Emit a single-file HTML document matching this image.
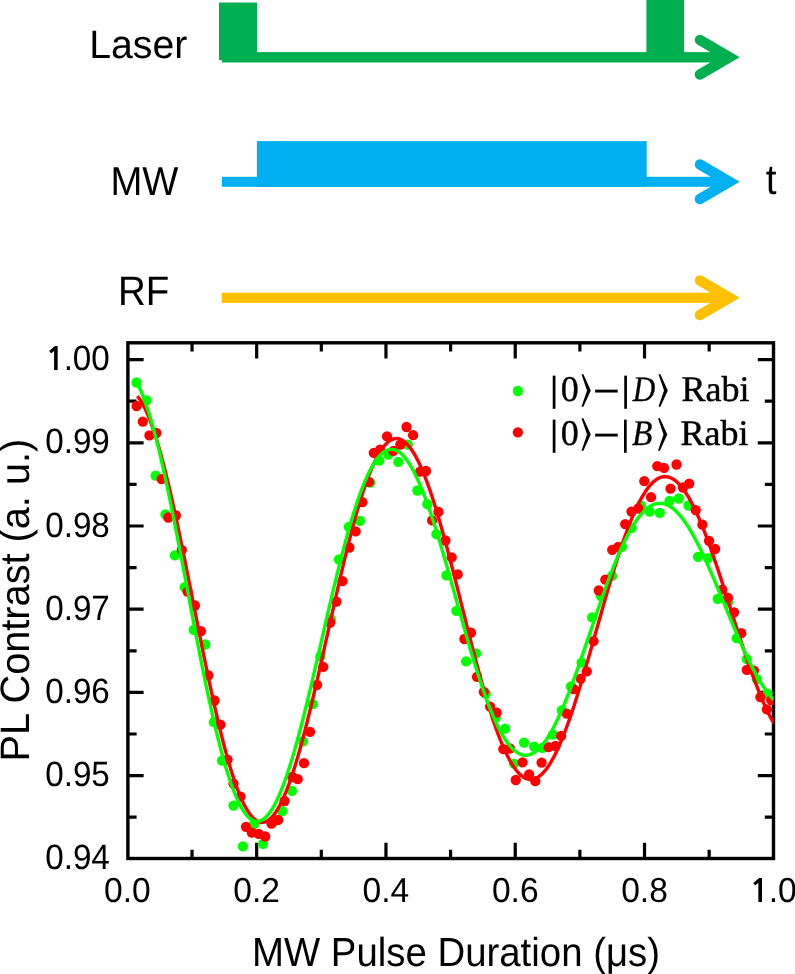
<!DOCTYPE html><html><head><meta charset="utf-8"><style>html,body{margin:0;padding:0;background:#fff;}svg{display:block;} text{text-rendering:geometricPrecision;}</style></head><body>
<svg width="795" height="974" viewBox="0 0 795 974">
<rect width="795" height="974" fill="#fff"/>
<g fill="#000">
<text transform="translate(89.22,58.10) scale(1.0,1.014)" font-family="'Liberation Sans', Arial, sans-serif" font-size="39.23">Laser</text>
<text transform="translate(110.46,194.70) scale(1.0,1.056)" font-family="'Liberation Sans', Arial, sans-serif" font-size="38.25">MW</text>
<text transform="translate(118.04,304.90) scale(1.0,1.068)" font-family="'Liberation Sans', Arial, sans-serif" font-size="38.5">RF</text>
<text transform="translate(765.71,193.90) scale(1.0,1.084)" font-family="'Liberation Sans', Arial, sans-serif" font-size="38.8">t</text>
</g>
<rect x="219" y="2.5" width="38" height="57.5" fill="#00B050"/>
<rect x="222" y="52.1" width="508" height="10.4" fill="#00B050"/>
<rect x="646.4" y="0" width="37.7" height="60" fill="#00B050"/>
<polyline points="699.9,40.05 729.40,57.30 699.9,74.55" fill="none" stroke="#00B050" stroke-width="10.4" stroke-linecap="round" stroke-linejoin="miter" stroke-miterlimit="10"/>
<rect x="221.9" y="176.8" width="508" height="10" fill="#00B0F0"/>
<rect x="256.9" y="141.1" width="389.8" height="45.7" fill="#00B0F0"/>
<polyline points="699.9,164.55 729.40,181.80 699.9,199.05" fill="none" stroke="#00B0F0" stroke-width="10.4" stroke-linecap="round" stroke-linejoin="miter" stroke-miterlimit="10"/>
<rect x="221.7" y="292.7" width="508" height="10.2" fill="#FFC000"/>
<polyline points="699.9,280.55 729.40,297.80 699.9,315.05" fill="none" stroke="#FFC000" stroke-width="10.4" stroke-linecap="round" stroke-linejoin="miter" stroke-miterlimit="10"/>
<rect x="127.9" y="342.8" width="645.6" height="515.7" fill="none" stroke="#000" stroke-width="3.4"/>
<path d="M192.04,858.5 V849.80 M192.04,342.8 V351.50 M256.68,858.5 V842.80 M256.68,342.8 V358.50 M321.32,858.5 V849.80 M321.32,342.8 V351.50 M385.96,858.5 V842.80 M385.96,342.8 V358.50 M450.60,858.5 V849.80 M450.60,342.8 V351.50 M515.24,858.5 V842.80 M515.24,342.8 V358.50 M579.88,858.5 V849.80 M579.88,342.8 V351.50 M644.52,858.5 V842.80 M644.52,342.8 V358.50 M709.16,858.5 V849.80 M709.16,342.8 V351.50 M127.9,817.20 H136.60 M773.5,817.20 H764.80 M127.9,775.60 H143.60 M773.5,775.60 H757.80 M127.9,734.00 H136.60 M773.5,734.00 H764.80 M127.9,692.40 H143.60 M773.5,692.40 H757.80 M127.9,650.80 H136.60 M773.5,650.80 H764.80 M127.9,609.20 H143.60 M773.5,609.20 H757.80 M127.9,567.60 H136.60 M773.5,567.60 H764.80 M127.9,526.00 H143.60 M773.5,526.00 H757.80 M127.9,484.40 H136.60 M773.5,484.40 H764.80 M127.9,442.80 H143.60 M773.5,442.80 H757.80 M127.9,401.20 H136.60 M773.5,401.20 H764.80 M127.9,359.60 H143.60 M773.5,359.60 H757.80" stroke="#000" stroke-width="3.2" fill="none"/>
<clipPath id="pc"><rect x="127.9" y="342.8" width="645.7" height="515.7"/></clipPath>
<g clip-path="url(#pc)">
<circle cx="136.6" cy="382.5" r="5.15" fill="#00FF00"/>
<circle cx="146.5" cy="400.3" r="5.15" fill="#00FF00"/>
<circle cx="155.6" cy="475.7" r="5.15" fill="#00FF00"/>
<circle cx="165.4" cy="514.4" r="5.15" fill="#00FF00"/>
<circle cx="174.8" cy="555.3" r="5.15" fill="#00FF00"/>
<circle cx="184.7" cy="587.2" r="5.15" fill="#00FF00"/>
<circle cx="193.7" cy="629.8" r="5.15" fill="#00FF00"/>
<circle cx="205.2" cy="644.5" r="5.15" fill="#00FF00"/>
<circle cx="213.8" cy="722.2" r="5.15" fill="#00FF00"/>
<circle cx="222.0" cy="760.6" r="5.15" fill="#00FF00"/>
<circle cx="233.5" cy="805.6" r="5.15" fill="#00FF00"/>
<circle cx="242.9" cy="846.3" r="5.15" fill="#00FF00"/>
<circle cx="254.0" cy="824.2" r="5.15" fill="#00FF00"/>
<circle cx="263.0" cy="843.8" r="5.15" fill="#00FF00"/>
<circle cx="275.3" cy="820.8" r="5.15" fill="#00FF00"/>
<circle cx="282.3" cy="811.2" r="5.15" fill="#00FF00"/>
<circle cx="292.0" cy="790.9" r="5.15" fill="#00FF00"/>
<circle cx="303.0" cy="741.4" r="5.15" fill="#00FF00"/>
<circle cx="312.8" cy="704.2" r="5.15" fill="#00FF00"/>
<circle cx="320.3" cy="656.4" r="5.15" fill="#00FF00"/>
<circle cx="330.8" cy="619.2" r="5.15" fill="#00FF00"/>
<circle cx="339.0" cy="559.5" r="5.15" fill="#00FF00"/>
<circle cx="348.8" cy="526.8" r="5.15" fill="#00FF00"/>
<circle cx="360.0" cy="520.8" r="5.15" fill="#00FF00"/>
<circle cx="370.1" cy="482.7" r="5.15" fill="#00FF00"/>
<circle cx="379.3" cy="460.7" r="5.15" fill="#00FF00"/>
<circle cx="388.3" cy="454.7" r="5.15" fill="#00FF00"/>
<circle cx="398.3" cy="461.8" r="5.15" fill="#00FF00"/>
<circle cx="407.8" cy="444.6" r="5.15" fill="#00FF00"/>
<circle cx="417.4" cy="490.5" r="5.15" fill="#00FF00"/>
<circle cx="427.3" cy="504.2" r="5.15" fill="#00FF00"/>
<circle cx="436.4" cy="534.1" r="5.15" fill="#00FF00"/>
<circle cx="446.4" cy="575.4" r="5.15" fill="#00FF00"/>
<circle cx="456.4" cy="610.8" r="5.15" fill="#00FF00"/>
<circle cx="466.1" cy="661.4" r="5.15" fill="#00FF00"/>
<circle cx="476.0" cy="653.4" r="5.15" fill="#00FF00"/>
<circle cx="485.7" cy="693.5" r="5.15" fill="#00FF00"/>
<circle cx="495.7" cy="717.9" r="5.15" fill="#00FF00"/>
<circle cx="505.1" cy="728.7" r="5.15" fill="#00FF00"/>
<circle cx="514.0" cy="763.6" r="5.15" fill="#00FF00"/>
<circle cx="524.0" cy="742.6" r="5.15" fill="#00FF00"/>
<circle cx="534.1" cy="746.6" r="5.15" fill="#00FF00"/>
<circle cx="542.3" cy="747.9" r="5.15" fill="#00FF00"/>
<circle cx="553.0" cy="734.7" r="5.15" fill="#00FF00"/>
<circle cx="561.8" cy="710.5" r="5.15" fill="#00FF00"/>
<circle cx="571.0" cy="686.5" r="5.15" fill="#00FF00"/>
<circle cx="581.6" cy="662.6" r="5.15" fill="#00FF00"/>
<circle cx="592.1" cy="617.4" r="5.15" fill="#00FF00"/>
<circle cx="601.0" cy="596.0" r="5.15" fill="#00FF00"/>
<circle cx="612.0" cy="575.9" r="5.15" fill="#00FF00"/>
<circle cx="622.0" cy="546.8" r="5.15" fill="#00FF00"/>
<circle cx="631.5" cy="528.0" r="5.15" fill="#00FF00"/>
<circle cx="640.9" cy="505.3" r="5.15" fill="#00FF00"/>
<circle cx="649.7" cy="511.6" r="5.15" fill="#00FF00"/>
<circle cx="659.8" cy="512.9" r="5.15" fill="#00FF00"/>
<circle cx="669.5" cy="500.9" r="5.15" fill="#00FF00"/>
<circle cx="678.8" cy="498.5" r="5.15" fill="#00FF00"/>
<circle cx="688.5" cy="505.5" r="5.15" fill="#00FF00"/>
<circle cx="698.0" cy="556.8" r="5.15" fill="#00FF00"/>
<circle cx="708.1" cy="558.1" r="5.15" fill="#00FF00"/>
<circle cx="717.7" cy="598.8" r="5.15" fill="#00FF00"/>
<circle cx="728.0" cy="602.3" r="5.15" fill="#00FF00"/>
<circle cx="736.7" cy="638.2" r="5.15" fill="#00FF00"/>
<circle cx="746.8" cy="659.1" r="5.15" fill="#00FF00"/>
<circle cx="756.8" cy="679.2" r="5.15" fill="#00FF00"/>
<circle cx="767.6" cy="693.6" r="5.15" fill="#00FF00"/>
<circle cx="136.6" cy="406.0" r="5.15" fill="#FF0000"/>
<circle cx="142.8" cy="421.6" r="5.15" fill="#FF0000"/>
<circle cx="149.4" cy="435.4" r="5.15" fill="#FF0000"/>
<circle cx="156.3" cy="433.0" r="5.15" fill="#FF0000"/>
<circle cx="161.6" cy="479.1" r="5.15" fill="#FF0000"/>
<circle cx="168.3" cy="517.5" r="5.15" fill="#FF0000"/>
<circle cx="175.9" cy="515.5" r="5.15" fill="#FF0000"/>
<circle cx="181.8" cy="549.9" r="5.15" fill="#FF0000"/>
<circle cx="187.5" cy="591.6" r="5.15" fill="#FF0000"/>
<circle cx="194.9" cy="605.5" r="5.15" fill="#FF0000"/>
<circle cx="200.9" cy="631.2" r="5.15" fill="#FF0000"/>
<circle cx="208.4" cy="675.3" r="5.15" fill="#FF0000"/>
<circle cx="214.5" cy="700.5" r="5.15" fill="#FF0000"/>
<circle cx="220.4" cy="724.7" r="5.15" fill="#FF0000"/>
<circle cx="227.5" cy="759.6" r="5.15" fill="#FF0000"/>
<circle cx="233.5" cy="783.7" r="5.15" fill="#FF0000"/>
<circle cx="240.5" cy="796.6" r="5.15" fill="#FF0000"/>
<circle cx="246.0" cy="826.8" r="5.15" fill="#FF0000"/>
<circle cx="251.8" cy="832.6" r="5.15" fill="#FF0000"/>
<circle cx="258.7" cy="833.8" r="5.15" fill="#FF0000"/>
<circle cx="265.2" cy="836.5" r="5.15" fill="#FF0000"/>
<circle cx="271.5" cy="823.7" r="5.15" fill="#FF0000"/>
<circle cx="278.2" cy="819.9" r="5.15" fill="#FF0000"/>
<circle cx="284.5" cy="801.0" r="5.15" fill="#FF0000"/>
<circle cx="292.3" cy="777.0" r="5.15" fill="#FF0000"/>
<circle cx="297.7" cy="779.2" r="5.15" fill="#FF0000"/>
<circle cx="304.0" cy="763.2" r="5.15" fill="#FF0000"/>
<circle cx="310.0" cy="731.8" r="5.15" fill="#FF0000"/>
<circle cx="317.0" cy="684.8" r="5.15" fill="#FF0000"/>
<circle cx="323.2" cy="666.9" r="5.15" fill="#FF0000"/>
<circle cx="330.2" cy="622.5" r="5.15" fill="#FF0000"/>
<circle cx="336.4" cy="601.6" r="5.15" fill="#FF0000"/>
<circle cx="342.5" cy="581.2" r="5.15" fill="#FF0000"/>
<circle cx="349.3" cy="547.5" r="5.15" fill="#FF0000"/>
<circle cx="355.7" cy="531.4" r="5.15" fill="#FF0000"/>
<circle cx="362.4" cy="502.2" r="5.15" fill="#FF0000"/>
<circle cx="368.9" cy="481.8" r="5.15" fill="#FF0000"/>
<circle cx="373.8" cy="452.8" r="5.15" fill="#FF0000"/>
<circle cx="380.1" cy="449.6" r="5.15" fill="#FF0000"/>
<circle cx="387.0" cy="436.4" r="5.15" fill="#FF0000"/>
<circle cx="393.3" cy="450.9" r="5.15" fill="#FF0000"/>
<circle cx="400.3" cy="444.6" r="5.15" fill="#FF0000"/>
<circle cx="406.5" cy="427.0" r="5.15" fill="#FF0000"/>
<circle cx="413.1" cy="435.2" r="5.15" fill="#FF0000"/>
<circle cx="420.1" cy="471.6" r="5.15" fill="#FF0000"/>
<circle cx="426.0" cy="471.0" r="5.15" fill="#FF0000"/>
<circle cx="432.1" cy="520.4" r="5.15" fill="#FF0000"/>
<circle cx="438.4" cy="511.9" r="5.15" fill="#FF0000"/>
<circle cx="445.4" cy="540.5" r="5.15" fill="#FF0000"/>
<circle cx="451.7" cy="557.4" r="5.15" fill="#FF0000"/>
<circle cx="457.7" cy="574.4" r="5.15" fill="#FF0000"/>
<circle cx="464.4" cy="639.0" r="5.15" fill="#FF0000"/>
<circle cx="471.0" cy="632.7" r="5.15" fill="#FF0000"/>
<circle cx="477.0" cy="676.8" r="5.15" fill="#FF0000"/>
<circle cx="483.8" cy="691.8" r="5.15" fill="#FF0000"/>
<circle cx="490.1" cy="706.6" r="5.15" fill="#FF0000"/>
<circle cx="496.7" cy="712.7" r="5.15" fill="#FF0000"/>
<circle cx="503.3" cy="749.1" r="5.15" fill="#FF0000"/>
<circle cx="509.9" cy="748.5" r="5.15" fill="#FF0000"/>
<circle cx="515.8" cy="780.0" r="5.15" fill="#FF0000"/>
<circle cx="522.5" cy="762.3" r="5.15" fill="#FF0000"/>
<circle cx="529.1" cy="774.3" r="5.15" fill="#FF0000"/>
<circle cx="535.3" cy="781.2" r="5.15" fill="#FF0000"/>
<circle cx="541.6" cy="762.7" r="5.15" fill="#FF0000"/>
<circle cx="548.6" cy="747.2" r="5.15" fill="#FF0000"/>
<circle cx="555.5" cy="746.0" r="5.15" fill="#FF0000"/>
<circle cx="561.1" cy="735.9" r="5.15" fill="#FF0000"/>
<circle cx="566.8" cy="713.6" r="5.15" fill="#FF0000"/>
<circle cx="573.5" cy="689.2" r="5.15" fill="#FF0000"/>
<circle cx="580.7" cy="678.7" r="5.15" fill="#FF0000"/>
<circle cx="586.8" cy="671.3" r="5.15" fill="#FF0000"/>
<circle cx="593.5" cy="641.2" r="5.15" fill="#FF0000"/>
<circle cx="598.8" cy="590.5" r="5.15" fill="#FF0000"/>
<circle cx="605.3" cy="579.7" r="5.15" fill="#FF0000"/>
<circle cx="612.2" cy="549.8" r="5.15" fill="#FF0000"/>
<circle cx="618.3" cy="547.0" r="5.15" fill="#FF0000"/>
<circle cx="625.2" cy="524.2" r="5.15" fill="#FF0000"/>
<circle cx="631.5" cy="511.6" r="5.15" fill="#FF0000"/>
<circle cx="638.4" cy="508.5" r="5.15" fill="#FF0000"/>
<circle cx="644.3" cy="481.2" r="5.15" fill="#FF0000"/>
<circle cx="651.0" cy="497.2" r="5.15" fill="#FF0000"/>
<circle cx="657.3" cy="466.1" r="5.15" fill="#FF0000"/>
<circle cx="664.0" cy="467.9" r="5.15" fill="#FF0000"/>
<circle cx="670.5" cy="488.7" r="5.15" fill="#FF0000"/>
<circle cx="676.5" cy="464.5" r="5.15" fill="#FF0000"/>
<circle cx="683.0" cy="487.5" r="5.15" fill="#FF0000"/>
<circle cx="689.2" cy="483.6" r="5.15" fill="#FF0000"/>
<circle cx="695.7" cy="510.1" r="5.15" fill="#FF0000"/>
<circle cx="702.4" cy="524.7" r="5.15" fill="#FF0000"/>
<circle cx="709.0" cy="540.8" r="5.15" fill="#FF0000"/>
<circle cx="715.1" cy="549.0" r="5.15" fill="#FF0000"/>
<circle cx="722.3" cy="589.7" r="5.15" fill="#FF0000"/>
<circle cx="728.0" cy="597.9" r="5.15" fill="#FF0000"/>
<circle cx="734.1" cy="612.3" r="5.15" fill="#FF0000"/>
<circle cx="741.3" cy="633.2" r="5.15" fill="#FF0000"/>
<circle cx="746.8" cy="669.9" r="5.15" fill="#FF0000"/>
<circle cx="754.0" cy="670.6" r="5.15" fill="#FF0000"/>
<circle cx="760.4" cy="697.2" r="5.15" fill="#FF0000"/>
<circle cx="766.9" cy="709.4" r="5.15" fill="#FF0000"/>
<circle cx="771.2" cy="700.1" r="5.15" fill="#FF0000"/>
<path d="M137.40,396.12 L139.53,398.92 L141.66,402.26 L143.79,406.12 L145.91,410.49 L148.04,415.36 L150.17,420.72 L152.30,426.55 L154.43,432.84 L156.56,439.56 L158.68,446.70 L160.81,454.25 L162.94,462.17 L165.07,470.45 L167.20,479.07 L169.33,488.01 L171.45,497.23 L173.58,506.72 L175.71,516.46 L177.84,526.41 L179.97,536.56 L182.10,546.87 L184.23,557.33 L186.35,567.89 L188.48,578.55 L190.61,589.26 L192.74,600.01 L194.87,610.77 L197.00,621.50 L199.12,632.19 L201.25,642.81 L203.38,653.33 L205.51,663.73 L207.64,673.97 L209.77,684.04 L211.89,693.92 L214.02,703.57 L216.15,712.98 L218.28,722.11 L220.41,730.96 L222.54,739.50 L224.67,747.71 L226.79,755.57 L228.92,763.07 L231.05,770.17 L233.18,776.88 L235.31,783.18 L237.44,789.04 L239.56,794.46 L241.69,799.42 L243.82,803.92 L245.95,807.95 L248.08,811.49 L250.21,814.55 L252.34,817.11 L254.46,819.16 L256.59,820.72 L258.72,821.77 L260.85,822.32 L262.98,822.36 L265.11,821.89 L267.23,820.93 L269.36,819.47 L271.49,817.52 L273.62,815.08 L275.75,812.17 L277.88,808.80 L280.00,804.96 L282.13,800.68 L284.26,795.97 L286.39,790.83 L288.52,785.29 L290.65,779.36 L292.78,773.06 L294.90,766.39 L297.03,759.39 L299.16,752.07 L301.29,744.44 L303.42,736.53 L305.55,728.36 L307.67,719.96 L309.80,711.33 L311.93,702.51 L314.06,693.51 L316.19,684.37 L318.32,675.09 L320.44,665.71 L322.57,656.26 L324.70,646.74 L326.83,637.19 L328.96,627.64 L331.09,618.10 L333.22,608.59 L335.34,599.15 L337.47,589.80 L339.60,580.55 L341.73,571.43 L343.86,562.46 L345.99,553.67 L348.11,545.07 L350.24,536.69 L352.37,528.54 L354.50,520.65 L356.63,513.03 L358.76,505.71 L360.88,498.69 L363.01,491.99 L365.14,485.64 L367.27,479.64 L369.40,474.01 L371.53,468.75 L373.66,463.89 L375.78,459.44 L377.91,455.39 L380.04,451.77 L382.17,448.57 L384.30,445.81 L386.43,443.48 L388.55,441.60 L390.68,440.17 L392.81,439.19 L394.94,438.65 L397.07,438.57 L399.20,438.93 L401.33,439.73 L403.45,440.98 L405.58,442.66 L407.71,444.78 L409.84,447.31 L411.97,450.27 L414.10,453.63 L416.22,457.39 L418.35,461.53 L420.48,466.05 L422.61,470.93 L424.74,476.16 L426.87,481.72 L428.99,487.61 L431.12,493.80 L433.25,500.27 L435.38,507.01 L437.51,514.01 L439.64,521.24 L441.77,528.69 L443.89,536.33 L446.02,544.14 L448.15,552.12 L450.28,560.23 L452.41,568.45 L454.54,576.77 L456.66,585.17 L458.79,593.61 L460.92,602.09 L463.05,610.58 L465.18,619.06 L467.31,627.50 L469.43,635.90 L471.56,644.22 L473.69,652.44 L475.82,660.56 L477.95,668.54 L480.08,676.37 L482.21,684.02 L484.33,691.49 L486.46,698.75 L488.59,705.78 L490.72,712.58 L492.85,719.12 L494.98,725.38 L497.10,731.36 L499.23,737.04 L501.36,742.40 L503.49,747.44 L505.62,752.15 L507.75,756.50 L509.87,760.50 L512.00,764.13 L514.13,767.40 L516.26,770.28 L518.39,772.77 L520.52,774.88 L522.65,776.59 L524.77,777.91 L526.90,778.83 L529.03,779.35 L531.16,779.47 L533.29,779.19 L535.42,778.52 L537.54,777.45 L539.67,776.00 L541.80,774.16 L543.93,771.95 L546.06,769.36 L548.19,766.42 L550.32,763.12 L552.44,759.47 L554.57,755.49 L556.70,751.19 L558.83,746.58 L560.96,741.67 L563.09,736.47 L565.21,731.00 L567.34,725.28 L569.47,719.31 L571.60,713.12 L573.73,706.72 L575.86,700.13 L577.98,693.36 L580.11,686.43 L582.24,679.36 L584.37,672.16 L586.50,664.87 L588.63,657.48 L590.76,650.03 L592.88,642.53 L595.01,635.00 L597.14,627.46 L599.27,619.93 L601.40,612.42 L603.53,604.96 L605.65,597.56 L607.78,590.24 L609.91,583.02 L612.04,575.92 L614.17,568.94 L616.30,562.12 L618.42,555.47 L620.55,549.00 L622.68,542.73 L624.81,536.66 L626.94,530.83 L629.07,525.23 L631.20,519.89 L633.32,514.82 L635.45,510.02 L637.58,505.51 L639.71,501.30 L641.84,497.39 L643.97,493.80 L646.09,490.54 L648.22,487.60 L650.35,485.00 L652.48,482.75 L654.61,480.84 L656.74,479.28 L658.86,478.07 L660.99,477.21 L663.12,476.71 L665.25,476.56 L667.38,476.77 L669.51,477.33 L671.64,478.23 L673.76,479.48 L675.89,481.08 L678.02,483.01 L680.15,485.26 L682.28,487.84 L684.41,490.74 L686.53,493.94 L688.66,497.44 L690.79,501.23 L692.92,505.30 L695.05,509.63 L697.18,514.22 L699.31,519.05 L701.43,524.11 L703.56,529.38 L705.69,534.86 L707.82,540.53 L709.95,546.37 L712.08,552.36 L714.20,558.50 L716.33,564.77 L718.46,571.14 L720.59,577.62 L722.72,584.17 L724.85,590.78 L726.97,597.44 L729.10,604.12 L731.23,610.82 L733.36,617.51 L735.49,624.18 L737.62,630.82 L739.75,637.40 L741.87,643.91 L744.00,650.33 L746.13,656.65 L748.26,662.86 L750.39,668.93 L752.52,674.86 L754.64,680.63 L756.77,686.22 L758.90,691.62 L761.03,696.83 L763.16,701.82 L765.29,706.59 L767.41,711.12 L769.54,715.41 L771.67,719.45 L773.80,723.22" fill="none" stroke="#FF0000" stroke-width="3.4"/>
<path d="M136.60,381.96 L138.73,386.08 L140.86,390.75 L142.99,395.95 L145.12,401.68 L147.26,407.90 L149.39,414.61 L151.52,421.78 L153.65,429.40 L155.78,437.43 L157.91,445.87 L160.04,454.68 L162.17,463.84 L164.30,473.32 L166.44,483.11 L168.57,493.16 L170.70,503.47 L172.83,514.00 L174.96,524.71 L177.09,535.60 L179.22,546.61 L181.35,557.74 L183.48,568.95 L185.62,580.21 L187.75,591.49 L189.88,602.76 L192.01,614.00 L194.14,625.19 L196.27,636.28 L198.40,647.26 L200.53,658.09 L202.66,668.76 L204.80,679.23 L206.93,689.49 L209.06,699.50 L211.19,709.24 L213.32,718.70 L215.45,727.85 L217.58,736.66 L219.71,745.13 L221.84,753.22 L223.98,760.92 L226.11,768.22 L228.24,775.10 L230.37,781.55 L232.50,787.55 L234.63,793.08 L236.76,798.15 L238.89,802.73 L241.02,806.82 L243.16,810.42 L245.29,813.51 L247.42,816.10 L249.55,818.17 L251.68,819.74 L253.81,820.79 L255.94,821.32 L258.07,821.35 L260.20,820.87 L262.34,819.88 L264.47,818.40 L266.60,816.43 L268.73,813.97 L270.86,811.04 L272.99,807.64 L275.12,803.79 L277.25,799.50 L279.38,794.78 L281.52,789.66 L283.65,784.13 L285.78,778.22 L287.91,771.95 L290.04,765.33 L292.17,758.39 L294.30,751.14 L296.43,743.59 L298.56,735.79 L300.69,727.73 L302.83,719.45 L304.96,710.96 L307.09,702.30 L309.22,693.48 L311.35,684.52 L313.48,675.45 L315.61,666.29 L317.74,657.06 L319.87,647.80 L322.01,638.51 L324.14,629.23 L326.27,619.98 L328.40,610.77 L330.53,601.64 L332.66,592.61 L334.79,583.69 L336.92,574.91 L339.05,566.29 L341.19,557.85 L343.32,549.61 L345.45,541.59 L347.58,533.81 L349.71,526.28 L351.84,519.03 L353.97,512.06 L356.10,505.40 L358.23,499.06 L360.37,493.05 L362.50,487.39 L364.63,482.09 L366.76,477.15 L368.89,472.60 L371.02,468.43 L373.15,464.66 L375.28,461.29 L377.41,458.33 L379.55,455.78 L381.68,453.66 L383.81,451.95 L385.94,450.66 L388.07,449.80 L390.20,449.35 L392.33,449.33 L394.46,449.73 L396.59,450.54 L398.73,451.76 L400.86,453.38 L402.99,455.41 L405.12,457.82 L407.25,460.61 L409.38,463.78 L411.51,467.31 L413.64,471.19 L415.77,475.41 L417.91,479.95 L420.04,484.81 L422.17,489.97 L424.30,495.42 L426.43,501.13 L428.56,507.10 L430.69,513.30 L432.82,519.72 L434.95,526.35 L437.09,533.16 L439.22,540.14 L441.35,547.27 L443.48,554.53 L445.61,561.90 L447.74,569.36 L449.87,576.89 L452.00,584.48 L454.13,592.10 L456.27,599.74 L458.40,607.37 L460.53,614.98 L462.66,622.55 L464.79,630.06 L466.92,637.49 L469.05,644.82 L471.18,652.04 L473.31,659.13 L475.45,666.07 L477.58,672.85 L479.71,679.44 L481.84,685.84 L483.97,692.03 L486.10,698.00 L488.23,703.72 L490.36,709.20 L492.49,714.41 L494.63,719.35 L496.76,724.00 L498.89,728.36 L501.02,732.42 L503.15,736.16 L505.28,739.58 L507.41,742.68 L509.54,745.45 L511.67,747.88 L513.81,749.97 L515.94,751.71 L518.07,753.11 L520.20,754.17 L522.33,754.87 L524.46,755.23 L526.59,755.24 L528.72,754.91 L530.85,754.24 L532.99,753.23 L535.12,751.89 L537.25,750.22 L539.38,748.23 L541.51,745.92 L543.64,743.31 L545.77,740.41 L547.90,737.21 L550.03,733.73 L552.17,729.99 L554.30,725.98 L556.43,721.73 L558.56,717.25 L560.69,712.54 L562.82,707.63 L564.95,702.52 L567.08,697.23 L569.21,691.77 L571.35,686.16 L573.48,680.42 L575.61,674.55 L577.74,668.57 L579.87,662.51 L582.00,656.36 L584.13,650.16 L586.26,643.91 L588.39,637.64 L590.53,631.35 L592.66,625.07 L594.79,618.80 L596.92,612.57 L599.05,606.39 L601.18,600.27 L603.31,594.24 L605.44,588.29 L607.57,582.46 L609.71,576.74 L611.84,571.17 L613.97,565.74 L616.10,560.47 L618.23,555.38 L620.36,550.47 L622.49,545.75 L624.62,541.25 L626.75,536.95 L628.88,532.89 L631.02,529.06 L633.15,525.47 L635.28,522.13 L637.41,519.05 L639.54,516.23 L641.67,513.68 L643.80,511.40 L645.93,509.40 L648.06,507.68 L650.20,506.25 L652.33,505.09 L654.46,504.22 L656.59,503.64 L658.72,503.35 L660.85,503.34 L662.98,503.61 L665.11,504.16 L667.24,504.99 L669.38,506.09 L671.51,507.46 L673.64,509.10 L675.77,510.99 L677.90,513.14 L680.03,515.53 L682.16,518.16 L684.29,521.02 L686.42,524.10 L688.56,527.39 L690.69,530.89 L692.82,534.58 L694.95,538.45 L697.08,542.49 L699.21,546.69 L701.34,551.04 L703.47,555.53 L705.60,560.14 L707.74,564.87 L709.87,569.70 L712.00,574.61 L714.13,579.60 L716.26,584.65 L718.39,589.75 L720.52,594.89 L722.65,600.05 L724.78,605.22 L726.92,610.39 L729.05,615.54 L731.18,620.66 L733.31,625.75 L735.44,630.78 L737.57,635.74 L739.70,640.63 L741.83,645.42 L743.96,650.12 L746.10,654.71 L748.23,659.17 L750.36,663.50 L752.49,667.69 L754.62,671.72 L756.75,675.60 L758.88,679.30 L761.01,682.83 L763.14,686.17 L765.28,689.32 L767.41,692.26 L769.54,695.01 L771.67,697.54 L773.80,699.85" fill="none" stroke="#00FF00" stroke-width="3.4"/>
</g>
<g fill="#000">
<text transform="translate(109.80,869.35) scale(1.0,1.058)" font-family="'Liberation Sans', Arial, sans-serif" font-size="33.2" text-anchor="end">0.94</text>
<text transform="translate(109.80,786.15) scale(1.0,1.058)" font-family="'Liberation Sans', Arial, sans-serif" font-size="33.2" text-anchor="end">0.95</text>
<text transform="translate(109.80,702.95) scale(1.0,1.058)" font-family="'Liberation Sans', Arial, sans-serif" font-size="33.2" text-anchor="end">0.96</text>
<text transform="translate(109.80,619.75) scale(1.0,1.058)" font-family="'Liberation Sans', Arial, sans-serif" font-size="33.2" text-anchor="end">0.97</text>
<text transform="translate(109.80,536.55) scale(1.0,1.058)" font-family="'Liberation Sans', Arial, sans-serif" font-size="33.2" text-anchor="end">0.98</text>
<text transform="translate(109.80,453.35) scale(1.0,1.058)" font-family="'Liberation Sans', Arial, sans-serif" font-size="33.2" text-anchor="end">0.99</text>
<text transform="translate(0,370.15) scale(1,1.058)"><tspan x="45.08" font-family="NanumGothic, 'Liberation Sans', sans-serif" font-weight="bold" font-size="29.85" textLength="20.26" lengthAdjust="spacingAndGlyphs">1</tspan><tspan x="63.64" font-family="'Liberation Sans', Arial, sans-serif" font-size="33.2">.00</tspan></text>
<text transform="translate(127.40,902.40) scale(1.0,1.032)" font-family="'Liberation Sans', Arial, sans-serif" font-size="33.6" text-anchor="middle">0.0</text>
<text transform="translate(256.68,902.40) scale(1.0,1.032)" font-family="'Liberation Sans', Arial, sans-serif" font-size="33.6" text-anchor="middle">0.2</text>
<text transform="translate(385.96,902.40) scale(1.0,1.032)" font-family="'Liberation Sans', Arial, sans-serif" font-size="33.6" text-anchor="middle">0.4</text>
<text transform="translate(515.24,902.40) scale(1.0,1.032)" font-family="'Liberation Sans', Arial, sans-serif" font-size="33.6" text-anchor="middle">0.6</text>
<text transform="translate(644.52,902.40) scale(1.0,1.032)" font-family="'Liberation Sans', Arial, sans-serif" font-size="33.6" text-anchor="middle">0.8</text>
<text transform="translate(0,902.40) scale(1,1.032)"><tspan x="749.06" font-family="NanumGothic, 'Liberation Sans', sans-serif" font-weight="bold" font-size="30.60" textLength="20.77" lengthAdjust="spacingAndGlyphs">1</tspan><tspan x="768.63" font-family="'Liberation Sans', Arial, sans-serif" font-size="33.6">.0</tspan></text>
</g>
<g fill="#000">
<text transform="translate(252.05,966.00) scale(1.0,1.057)" font-family="'Liberation Sans', Arial, sans-serif" font-size="38.37">MW Pulse Duration (μs)</text>
<text transform="translate(28.9,761.56) rotate(-90) scale(1,1.035)" font-family="'Liberation Sans', Arial, sans-serif" font-size="39.7">PL Contrast (a. u.)</text>
</g>
<circle cx="517.9" cy="391.0" r="5.15" fill="#00FF00"/>
<circle cx="517.9" cy="432.3" r="5.15" fill="#FF0000"/>
<g fill="#000">
<text y="401.2"><tspan x="548.58" font-family="'DejaVu Sans', sans-serif" font-size="33.2">|</tspan><tspan x="560.63" font-family="'Liberation Serif', 'Times New Roman', serif" font-size="36" stroke="#000" stroke-width="0.4">0</tspan><tspan x="579.87" font-family="'DejaVu Math TeX Gyre', 'DejaVu Serif', serif" font-size="38.5" textLength="13.68" lengthAdjust="spacingAndGlyphs">⟩</tspan><tspan x="592.32" font-family="'DejaVu Math TeX Gyre', 'DejaVu Serif', serif" font-size="36">−</tspan><tspan x="619.88" font-family="'DejaVu Sans', sans-serif" font-size="33.2">|</tspan><tspan x="632.64" font-family="'Liberation Serif', 'Times New Roman', serif" font-size="36" font-style="italic" textLength="22.50" lengthAdjust="spacingAndGlyphs" stroke="#000" stroke-width="0.3">D</tspan><tspan x="656.67" font-family="'DejaVu Math TeX Gyre', 'DejaVu Serif', serif" font-size="38.5" textLength="13.68" lengthAdjust="spacingAndGlyphs">⟩</tspan><tspan x="672.46" font-family="'Liberation Serif', 'Times New Roman', serif" font-size="36" stroke="#000" stroke-width="0.45"> Rabi</tspan></text>
<text y="445.0"><tspan x="548.58" font-family="'DejaVu Sans', sans-serif" font-size="33.2">|</tspan><tspan x="560.63" font-family="'Liberation Serif', 'Times New Roman', serif" font-size="36" stroke="#000" stroke-width="0.4">0</tspan><tspan x="579.87" font-family="'DejaVu Math TeX Gyre', 'DejaVu Serif', serif" font-size="38.5" textLength="13.68" lengthAdjust="spacingAndGlyphs">⟩</tspan><tspan x="592.32" font-family="'DejaVu Math TeX Gyre', 'DejaVu Serif', serif" font-size="36">−</tspan><tspan x="619.78" font-family="'DejaVu Sans', sans-serif" font-size="33.2">|</tspan><tspan x="631.90" font-family="'Liberation Serif', 'Times New Roman', serif" font-size="36" font-style="italic" textLength="20.40" lengthAdjust="spacingAndGlyphs" stroke="#000" stroke-width="0.3">B</tspan><tspan x="656.17" font-family="'DejaVu Math TeX Gyre', 'DejaVu Serif', serif" font-size="38.5" textLength="13.68" lengthAdjust="spacingAndGlyphs">⟩</tspan><tspan x="671.56" font-family="'Liberation Serif', 'Times New Roman', serif" font-size="36" stroke="#000" stroke-width="0.45"> Rabi</tspan></text>
</g>
</svg></body></html>
